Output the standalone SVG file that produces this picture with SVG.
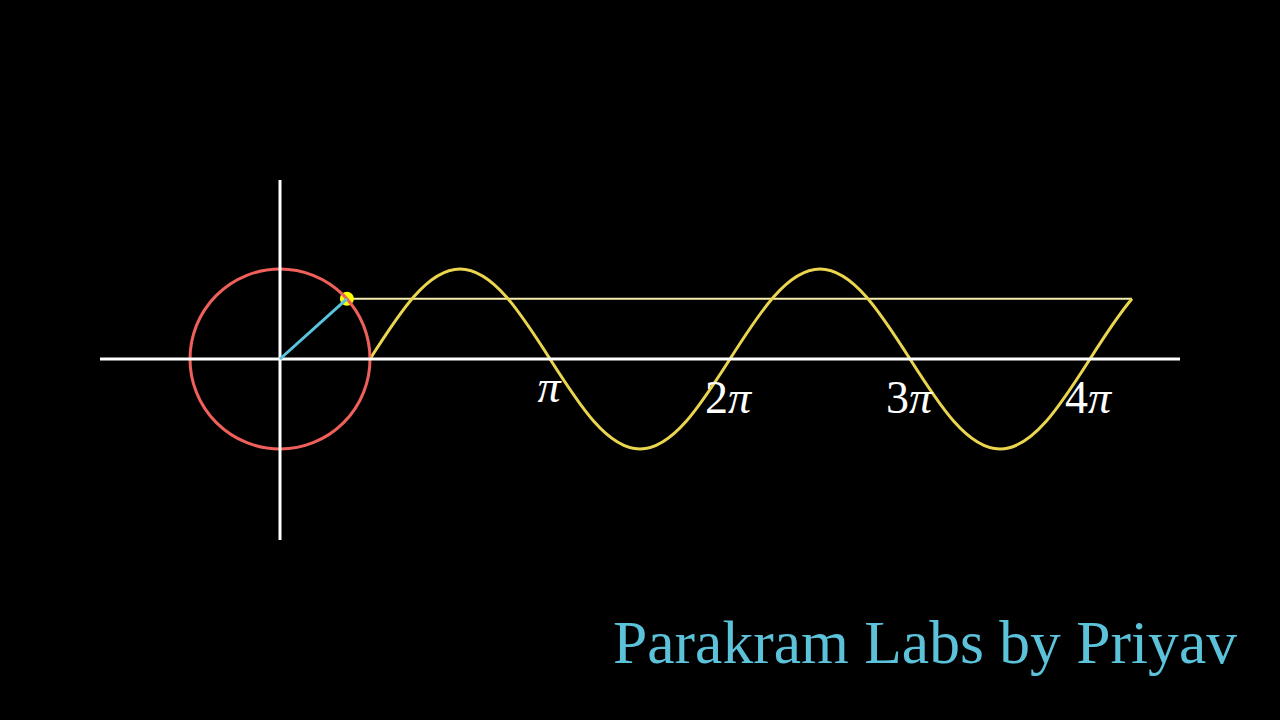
<svg xmlns="http://www.w3.org/2000/svg" width="1280" height="720" viewBox="0 0 1280 720">
<style>
.axis{stroke:#FFFFFF;stroke-width:3;fill:none}
.lbl{font-family:"Liberation Serif","DejaVu Serif",serif;font-size:46px;fill:#FFFFFF;text-anchor:middle}
.pi{font-style:italic}
</style>
<rect x="0" y="0" width="1280" height="720" fill="#000000"/>
<g id="trace-line">
<line x1="346.9" y1="298.8" x2="1132" y2="298.8" stroke="#F5EFB0" stroke-width="2"/>
</g>
<g id="sine-wave">
<path d="M370,359 C399.35,312.89 427.43,269 460,269 C492.57,269 520.65,312.89 550,359 C579.35,405.11 607.43,449 640,449 C672.57,449 700.65,405.11 730,359 C759.35,312.89 787.43,269 820,269 C852.57,269 880.65,312.89 910,359 C939.35,405.11 967.43,449 1000,449 C1032.57,449 1060.65,405.11 1090,359 C1104,337 1118,315.3 1132,298.8" fill="none" stroke="#EBD54E" stroke-width="3"/>
</g>
<g id="point">
<circle cx="346.9" cy="298.8" r="7" fill="#FFFF00"/>
</g>
<g id="unit-circle">
<circle cx="280" cy="359" r="90" fill="none" stroke="#F0605A" stroke-width="3"/>
</g>
<g id="axes">
<line class="axis" x1="100" y1="359" x2="1180" y2="359"/>
<line class="axis" x1="280" y1="180" x2="280" y2="540"/>
</g>
<g id="radius">
<line x1="280" y1="359" x2="346.9" y2="298.8" stroke="#58C4DD" stroke-width="3"/>
</g>
<g id="labels">
<text class="lbl pi" x="549" y="402">π</text>
<text class="lbl" x="728" y="413">2<tspan class="pi">π</tspan></text>
<text class="lbl" x="909" y="413">3<tspan class="pi">π</tspan></text>
<text class="lbl" x="1088" y="413">4<tspan class="pi">π</tspan></text>
</g>
<g id="watermark">
<text x="613" y="663" font-family="Liberation Serif, DejaVu Serif, serif" font-size="61" fill="#5BC2D9" textLength="624" lengthAdjust="spacingAndGlyphs">Parakram Labs by Priyav</text>
</g>
</svg>
